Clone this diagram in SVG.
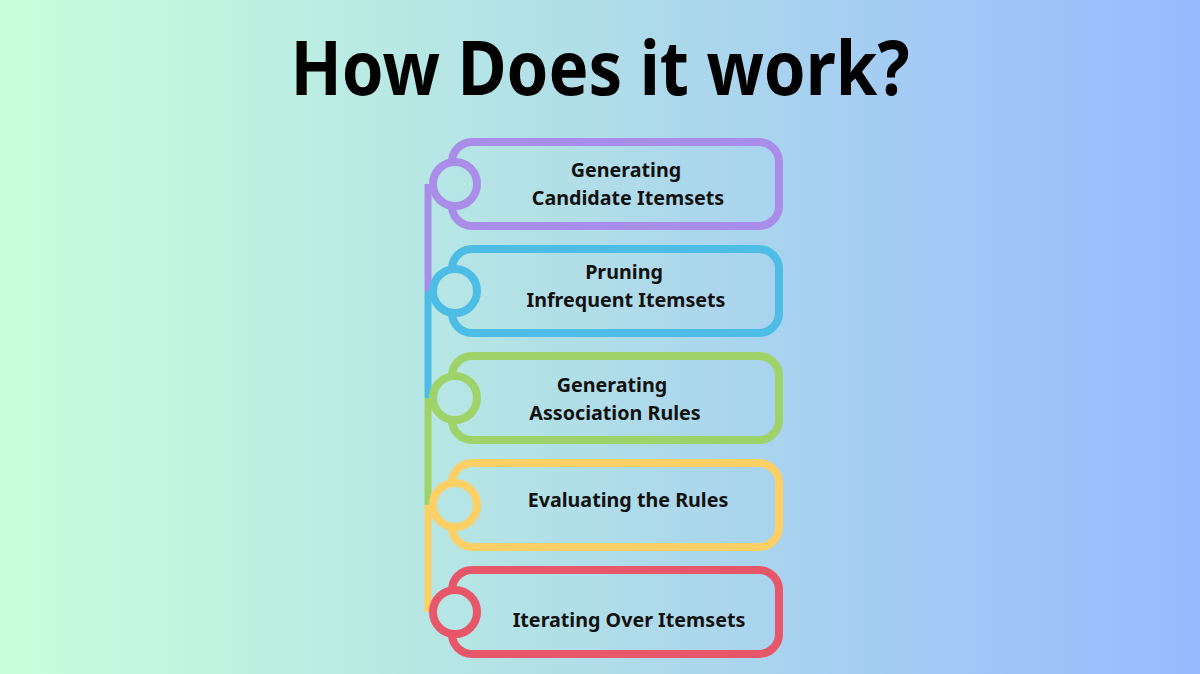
<svg xmlns="http://www.w3.org/2000/svg" width="1200" height="674" viewBox="0 0 1200 674">
  <defs>
    <linearGradient id="bg" gradientUnits="userSpaceOnUse" x1="0" y1="0" x2="1200" y2="0">
      <stop offset="0" stop-color="#C8FFDB"/>
      <stop offset="0.5" stop-color="#B0DDE8"/>
      <stop offset="1" stop-color="#97BAFF"/>
    </linearGradient>
    <style>
      .box { fill: none; stroke-width: 8; }
      .ring { fill: url(#bg); stroke-width: 8; }
      .link { stroke-width: 7; fill: none; }
      .lbl { font-family: "Noto Sans", "Open Sans", sans-serif; font-weight: bold; font-size: 19.7px; fill: #111; text-anchor: middle; }
      .title { font-family: "Noto Sans", "Liberation Sans", sans-serif; font-weight: bold; font-size: 75px; fill: #000; text-anchor: middle; }
    </style>
  </defs>
  <rect x="0" y="0" width="1200" height="674" fill="url(#bg)"/>
  <text class="title" x="600" y="95" textLength="619" lengthAdjust="spacingAndGlyphs">How Does it work?</text>

  <g id="connectors">
    <line class="link" x1="428" y1="184" x2="428" y2="291" stroke="#A98DE8"/>
    <line class="link" x1="428" y1="291" x2="428" y2="398" stroke="#4DBDE6"/>
    <line class="link" x1="428" y1="398" x2="428" y2="505" stroke="#9ED36A"/>
    <line class="link" x1="428" y1="505" x2="428" y2="612" stroke="#FDD065"/>
  </g>

  <g id="node1">
    <rect class="box" x="452" y="142" width="327" height="84" rx="20" stroke="#A98DE8"/>
    <circle class="ring" cx="455" cy="184" r="22" stroke="#A98DE8"/>
    <text class="lbl" x="626" y="177">Generating</text>
    <text class="lbl" x="628" y="205">Candidate Itemsets</text>
  </g>
  <g id="node2">
    <rect class="box" x="452" y="249" width="327" height="84" rx="20" stroke="#4DBDE6"/>
    <circle class="ring" cx="455" cy="291" r="22" stroke="#4DBDE6"/>
    <text class="lbl" x="624" y="279">Pruning</text>
    <text class="lbl" x="626" y="307">Infrequent Itemsets</text>
  </g>
  <g id="node3">
    <rect class="box" x="452" y="356" width="327" height="84" rx="20" stroke="#9ED36A"/>
    <circle class="ring" cx="455" cy="398" r="22" stroke="#9ED36A"/>
    <text class="lbl" x="612" y="392">Generating</text>
    <text class="lbl" x="615" y="420">Association Rules</text>
  </g>
  <g id="node4">
    <rect class="box" x="452" y="463" width="327" height="84" rx="20" stroke="#FDD065"/>
    <circle class="ring" cx="455" cy="505" r="22" stroke="#FDD065"/>
    <text class="lbl" x="628" y="507">Evaluating the Rules</text>
  </g>
  <g id="node5">
    <rect class="box" x="452" y="570" width="327" height="84" rx="20" stroke="#E8566A"/>
    <circle class="ring" cx="455" cy="612" r="22" stroke="#E8566A"/>
    <text class="lbl" x="629" y="627">Iterating Over Itemsets</text>
  </g>
</svg>
